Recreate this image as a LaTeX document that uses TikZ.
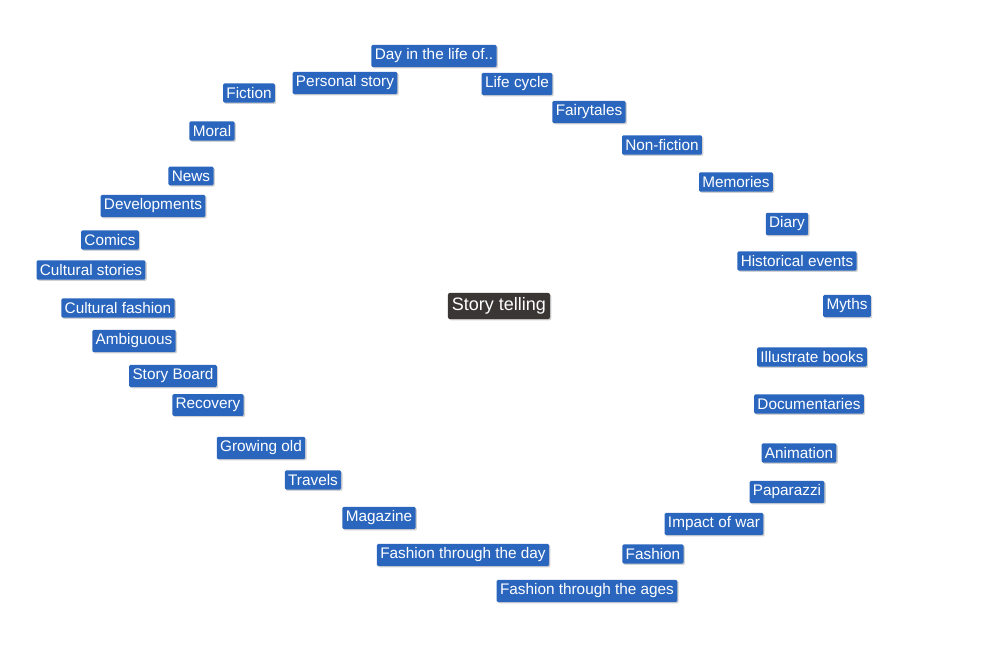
\documentclass[tikz,border=0pt]{standalone}
\usepackage{fontspec}
\setmainfont{Liberation Sans}
\usetikzlibrary{backgrounds,shadows}
\definecolor{lbl}{HTML}{2B66BE}
\definecolor{ctr}{HTML}{3A3634}
\definecolor{ln}{HTML}{CCCCCC}
\tikzset{
 lab/.style={fill=lbl,text=white,font=\fontsize{11.5}{13}\selectfont,inner xsep=2.5pt,inner ysep=3pt,rounded corners=1pt,drop shadow={shadow xshift=1pt,shadow yshift=-1pt,opacity=0.35,fill=gray}},
 hub/.style={fill=ctr,text=white,font=\fontsize{13.5}{15}\selectfont,inner xsep=3pt,inner ysep=3.5pt,rounded corners=1.5pt,drop shadow={shadow xshift=1pt,shadow yshift=-1pt,opacity=0.35,fill=gray}},
 spoke/.style={draw=ln,line width=0.9pt}
}
\begin{document}
\begin{tikzpicture}[x=0.75pt,y=-0.75pt]
\useasboundingbox[fill=white] (0,0) rectangle (1001,646);
\node[hub] (st) at (499,306) {Story telling};
\foreach \n/\x/\y/\t in {
 a/434/56/{Day in the life of..},
 b/345/83/{Personal story},
 c/517/84/{Life cycle},
 d/249/93/{Fiction},
 e/589/112/{Fairytales},
 f/212/131/{Moral},
 g/662/145/{Non-fiction},
 h/191/176/{News},
 i/736/182/{Memories},
 j/153/206/{Developments},
 k/787/224/{Diary},
 l/110/240/{Comics},
 m/91/270/{Cultural stories},
 n/797/261/{Historical events},
 o/118/308/{Cultural fashion},
 p/847/306/{Myths},
 q/134/341/{Ambiguous},
 r/812/357/{Illustrate books},
 s/173/376/{Story Board},
 t/208/405/{Recovery},
 u/809/404/{Documentaries},
 v/261/448/{Growing old},
 w/799/453/{Animation},
 x/313/480/{Travels},
 y/787/492/{Paparazzi},
 z/379/518/{Magazine},
 aa/714/524/{Impact of war},
 ab/463/555/{Fashion through the day},
 ac/653/554/{Fashion},
 ad/587/591/{Fashion through the ages}}
{
 \node[lab] (\n) at (\x,\y) {\t};
 \begin{scope}[on background layer]
 \draw[spoke] (st.center) -- (\n.center);
 \end{scope}
}
\end{tikzpicture}
\end{document}
